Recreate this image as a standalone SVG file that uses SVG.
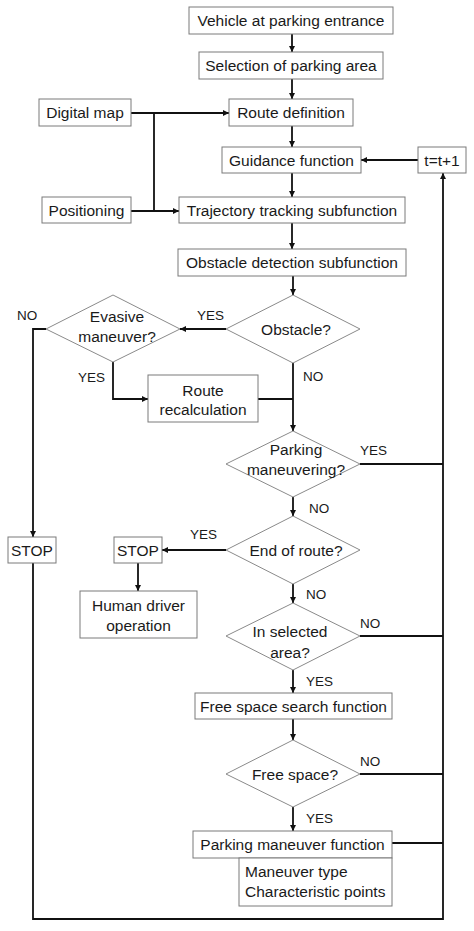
<svg xmlns="http://www.w3.org/2000/svg" width="474" height="931" viewBox="0 0 474 931">
<defs>
<marker id="ah" viewBox="0 0 10 10" refX="10" refY="5" markerWidth="6" markerHeight="6" markerUnits="userSpaceOnUse" orient="auto"><path d="M0,0 L10,5 L0,10 z" fill="#111"/></marker>
<style>
.b{fill:#fff;stroke:#7a7a7a;stroke-width:1}
.d{fill:#fff;stroke:#8a8a8a;stroke-width:1}
.t{font-family:"Liberation Sans",Arial,sans-serif;font-size:15.5px;fill:#1a1a1a;text-anchor:middle;dominant-baseline:central}
.l{font-family:"Liberation Sans",Arial,sans-serif;font-size:13.5px;fill:#1a1a1a;dominant-baseline:central}
.c{fill:none;stroke:#111;stroke-width:1.8}
.a{marker-end:url(#ah)}
</style>
</defs>
<rect width="474" height="931" fill="#fff"/>
<g id="connectors">
<path class="c a" d="M292,34 V52"/>
<path class="c a" d="M292,79 V99"/>
<path class="c a" d="M131,113 H229"/>
<path class="c" d="M154,113 V211"/>
<path class="c a" d="M131,211 H179"/>
<path class="c a" d="M292,126 V147"/>
<path class="c a" d="M418,160 H361"/>
<path class="c a" d="M292,173 V197"/>
<path class="c a" d="M292,223 V249"/>
<path class="c a" d="M293,276 V295"/>
<path class="c a" d="M226,329 H180"/>
<path class="c a" d="M46,329 H33 V537"/>
<path class="c a" d="M113,362 V399 H148"/>
<path class="c" d="M258,399 H293"/>
<path class="c a" d="M293,363 V431"/>
<path class="c" d="M360,464 H443"/>
<path class="c a" d="M293,497 V516"/>
<path class="c a" d="M226,550 H162"/>
<path class="c a" d="M138,563 V591"/>
<path class="c a" d="M293,584 V603"/>
<path class="c" d="M360,636 H443"/>
<path class="c a" d="M293,670 V693"/>
<path class="c a" d="M293,719 V740"/>
<path class="c" d="M360,774 H443"/>
<path class="c a" d="M293,807 V831"/>
<path class="c" d="M392,843 H443"/>
<path class="c a" d="M33,563 V919 H443 V173"/>
</g>
<g id="n-vehicle"><rect class="b" x="189" y="7" width="204" height="27"/><text class="t" x="291" y="20.5">Vehicle at parking entrance</text></g>
<g id="n-selection"><rect class="b" x="199" y="52" width="184" height="27"/><text class="t" x="291" y="65.5">Selection of parking area</text></g>
<g id="n-digitalmap"><rect class="b" x="39" y="99" width="92" height="27"/><text class="t" x="85" y="112.5">Digital map</text></g>
<g id="n-route"><rect class="b" x="229" y="99" width="124" height="27"/><text class="t" x="291" y="112.5">Route definition</text></g>
<g id="n-guidance"><rect class="b" x="222" y="147" width="139" height="26"/><text class="t" x="291.5" y="160">Guidance function</text></g>
<g id="n-tinc"><rect class="b" x="418" y="147" width="48" height="26"/><text class="t" x="442" y="160">t=t+1</text></g>
<g id="n-positioning"><rect class="b" x="42" y="197" width="89" height="26"/><text class="t" x="86.5" y="210">Positioning</text></g>
<g id="n-trajectory"><rect class="b" x="179" y="197" width="226" height="26"/><text class="t" x="292" y="210">Trajectory tracking subfunction</text></g>
<g id="n-obstacledet"><rect class="b" x="178" y="249" width="228" height="27"/><text class="t" x="292" y="262.5">Obstacle detection subfunction</text></g>
<g id="n-obstacle"><polygon class="d" points="293,295 360,329 293,363 226,329"/><text class="t" x="296" y="329">Obstacle?</text></g>
<g id="n-evasive"><polygon class="d" points="113,295 180,329 113,362 46,329"/><text class="t" x="117" y="316">Evasive</text><text class="t" x="117" y="336">maneuver?</text></g>
<g id="n-recalc"><rect class="b" x="148" y="375" width="110" height="47"/><text class="t" x="203" y="390">Route</text><text class="t" x="203" y="409">recalculation</text></g>
<g id="n-parkman"><polygon class="d" points="293,431 360,464 293,497 226,464"/><text class="t" x="296" y="449">Parking</text><text class="t" x="296" y="469">maneuvering?</text></g>
<g id="n-endroute"><polygon class="d" points="293,516 360,550 293,584 226,550"/><text class="t" x="296" y="550">End of route?</text></g>
<g id="n-stop1"><rect class="b" x="8" y="537" width="48" height="26"/><text class="t" x="32" y="550">STOP</text></g>
<g id="n-stop2"><rect class="b" x="114" y="537" width="48" height="26"/><text class="t" x="138" y="550">STOP</text></g>
<g id="n-human"><rect class="b" x="80" y="591" width="117" height="47"/><text class="t" x="138.5" y="605">Human driver</text><text class="t" x="138.5" y="625">operation</text></g>
<g id="n-selected"><polygon class="d" points="293,603 360,636 293,670 226,636"/><text class="t" x="290" y="631">In selected</text><text class="t" x="290" y="652">area?</text></g>
<g id="n-freesearch"><rect class="b" x="195" y="693" width="197" height="26"/><text class="t" x="293.5" y="706">Free space search function</text></g>
<g id="n-freespace"><polygon class="d" points="293,740 360,774 293,807 226,774"/><text class="t" x="295" y="774">Free space?</text></g>
<g id="n-parkfunc"><rect class="b" x="193" y="831" width="199" height="27"/><text class="t" x="292.5" y="844.5">Parking maneuver function</text></g>
<g id="n-maneuvertype"><rect class="b" x="239" y="858" width="153" height="48"/><text class="t" x="245" y="871" style="text-anchor:start">Maneuver type</text><text class="t" x="245" y="891" style="text-anchor:start">Characteristic points</text></g>
<g id="labels">
<text class="l" x="197" y="315">YES</text>
<text class="l" x="17" y="315">NO</text>
<text class="l" x="78" y="377">YES</text>
<text class="l" x="303" y="376">NO</text>
<text class="l" x="360" y="450">YES</text>
<text class="l" x="309" y="508">NO</text>
<text class="l" x="190" y="534">YES</text>
<text class="l" x="306" y="594">NO</text>
<text class="l" x="360" y="623">NO</text>
<text class="l" x="306" y="681">YES</text>
<text class="l" x="360" y="761">NO</text>
<text class="l" x="306" y="818">YES</text>
</g>
</svg>
